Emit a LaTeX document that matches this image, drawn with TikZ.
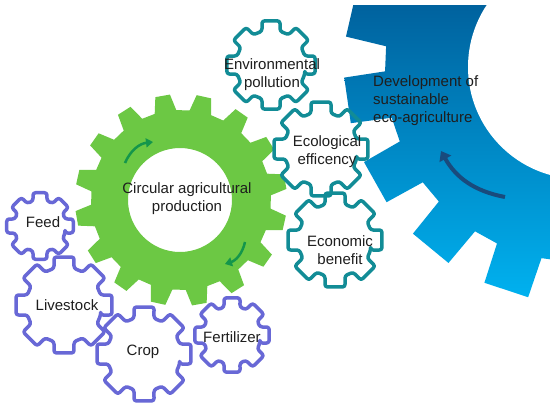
\documentclass[tikz,border=0pt]{standalone}
\usepackage{fontspec}
\setmainfont{Liberation Sans}
\usetikzlibrary{arrows.meta}
\definecolor{gearpurple}{RGB}{104,104,214}
\definecolor{gearteal}{RGB}{18,140,150}
\definecolor{geargreen}{RGB}{108,200,68}
\definecolor{arrowgreen}{RGB}{20,150,75}
\definecolor{bluetop}{RGB}{0,98,158}
\definecolor{bluebot}{RGB}{0,178,240}
\definecolor{arrownavy}{RGB}{25,75,125}
\definecolor{textgray}{RGB}{30,30,30}
% outline gear: cx, cy (image coords), tip radius, root radius, tooth half-width, style
\newcommand\outlinegear[6]{%
  \pgfmathsetmacro\gAr{asin(#5/#4)}%
  \pgfmathsetmacro\gAt{asin(#5/#3)}%
  \draw[#6,shift={(#1,-#2)}] ({-\gAr}:#4)
    \foreach \k in {0,...,7}{ -- ({\k*45-\gAt}:#3) -- ({\k*45+\gAt}:#3)
      -- ({\k*45+\gAr}:#4) -- ({\k*45+45-\gAr}:#4) } -- cycle;}
\tikzset{
  purplegear/.style={draw=gearpurple,line width=3.5pt,rounded corners=2.5pt,line join=round},
  tealgear/.style={draw=gearteal,line width=3.5pt,rounded corners=2.5pt,line join=round},
  label/.style={font=\fontsize{15}{18}\selectfont,text=textgray,align=center,inner sep=0pt},
  greenarrow/.style={draw=arrowgreen,line width=2.5pt,-{Triangle[length=7pt,width=9pt]}},
  bluearrow/.style={draw=arrownavy,line width=4pt,-{Triangle[length=9pt,width=13pt]}}
}
\begin{document}
\begin{tikzpicture}[x=1pt,y=1pt]
\useasboundingbox (0,0) rectangle (550,-410);
\fill[white] (0,0) rectangle (550,-410);
% blue gear
\begin{scope}
  \clip[shift={(580,-67)}] ({167-6.9}:195)
    \foreach \k in {0,...,16}{ -- ({167+\k*21.1765-5.6}:236) -- ({167+\k*21.1765+5.6}:236)
      -- ({167+\k*21.1765+6.9}:195) -- ({167+(\k+1)*21.1765-6.9}:195) } -- cycle;
  \shade[top color=bluetop,bottom color=bluebot] (330,-5) rectangle (550,-300);
\end{scope}
\fill[white] (580,-67) circle (112);
% green gear
\fill[geargreen,even odd rule,shift={(181,-200)}] ({10-7}:90)
  \foreach \k in {0,...,15}{ -- ({10+\k*22.5-4}:106) -- ({10+\k*22.5+4}:106)
    -- ({10+\k*22.5+7}:90) -- ({10+(\k+1)*22.5-7}:90) } -- cycle
  (-1,0) circle (52);
% outline gears
\outlinegear{40}{226}{34}{26}{7}{purplegear}
\outlinegear{64}{305}{49}{38}{10}{purplegear}
\outlinegear{144}{354}{48}{37}{10}{purplegear}
\outlinegear{232}{335}{38}{29}{8}{purplegear}
\outlinegear{271}{65}{45}{35}{9}{tealgear}
\outlinegear{321}{149}{48}{37}{10}{tealgear}
\outlinegear{335}{240}{48}{37}{10}{tealgear}
% arrows
\coordinate (ga1s) at (125,-163);
\coordinate (ga1e) at (153,-142);
\coordinate (ga2s) at (245,-242);
\coordinate (ga2e) at (225,-264);
\coordinate (bas) at (505,-197);
\coordinate (bae) at (441,-151);
\draw[greenarrow] (ga1s) to[bend left=30] (ga1e);
\draw[greenarrow] (ga2s) to[bend left=30] (ga2e);
\draw[bluearrow] (bas) to[bend left=25] (bae);
% labels
\node[label] (circ) at (187,-199) {Circular agricultural\\production};
\node[label] (feed) at (43,-222) {Feed};
\node[label] (live) at (67,-305) {Livestock};
\node[label] (crop) at (143,-352) {Crop};
\node[label] (fert) at (232,-337) {Fertilizer};
\node[label] (env) at (272,-75) {Environmental\\pollution};
\node[label] (ecol) at (327,-152) {Ecological\\efficency};
\node[label] (econ) at (340,-250) {Economic\\benefit};
\node[label,align=left,anchor=west] (dev) at (373,-101) {Development of\\sustainable\\eco-agriculture};
\end{tikzpicture}
\end{document}
